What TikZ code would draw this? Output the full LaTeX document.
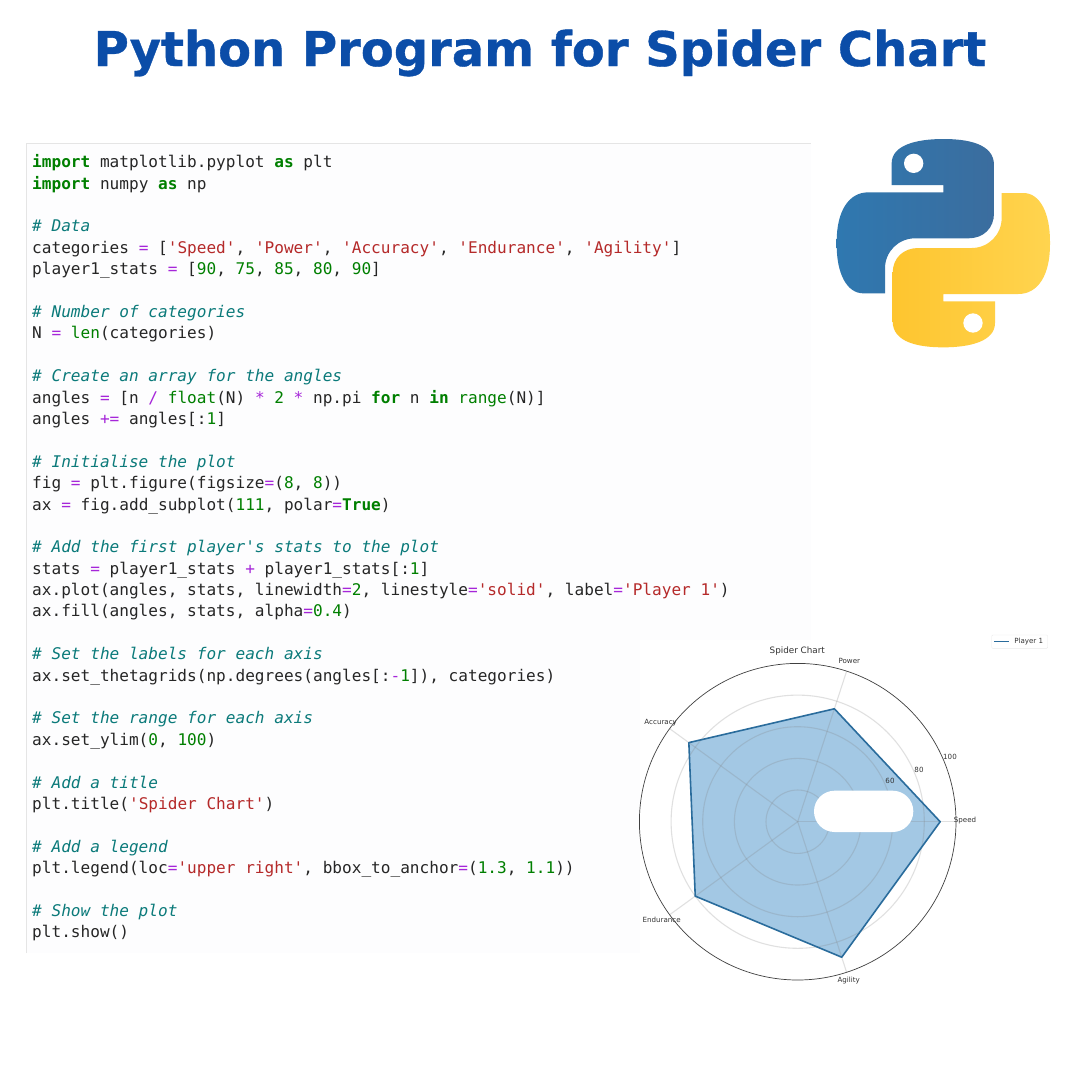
\documentclass[tikz,border=0pt]{standalone}
\usepackage{fontspec}
\usepackage{tikz}
\usetikzlibrary{calc}
\setmainfont{DejaVu Sans}
\newfontfamily\codefamily{DejaVu Sans Mono}
\newfontfamily\titlefamily[BoldFeatures={FakeBold=0.7}]{DejaVu Sans}
\definecolor{titleblue}{HTML}{0B4DA8}
\definecolor{kwgreen}{HTML}{007F00}
\definecolor{cmteal}{HTML}{0B7A7A}
\definecolor{strred}{HTML}{B52A2A}
\definecolor{oppurple}{HTML}{A626D9}
\definecolor{fillblue}{HTML}{A3C8E4}
\definecolor{lineblue}{HTML}{2A6C9C}
\definecolor{panelgrey}{HTML}{FDFDFE}
\definecolor{logoblueleft}{HTML}{2F78B0}
\definecolor{logoblueright}{HTML}{3B6D9E}
\definecolor{logoyellowleft}{HTML}{FFD44F}
\definecolor{logoyellowright}{HTML}{FEC52F}
\newcommand{\kw}[1]{\textcolor{kwgreen}{\bfseries #1}}
\newcommand{\bi}[1]{\textcolor{kwgreen}{#1}}
\newcommand{\cm}[1]{\textcolor{cmteal}{\itshape #1}}
\newcommand{\strlit}[1]{\textcolor{strred}{#1}}
\newcommand{\oper}[1]{\textcolor{oppurple}{#1}}

\begin{document}
\begin{tikzpicture} [
		x=1pt,y=-1pt,
		every node/.style={inner sep=0pt,text=black!80},
		ticklabel/.style={font=\fontsize{7.1}{8}\selectfont},
		codetext/.style={anchor=north west,align=left,text=black!85,font=\codefamily\fontsize{16.09}{21.39}\selectfont},
		gridline/.style={black!50,opacity=0.24,line width=1.1pt},
		snake/.style={insert path={(370,27) .. controls (440,27) and (522,40) .. (522,105) -- (522,250) .. controls (522,295) and (490,325) .. (445,325) -- (285,325) .. controls (235,325) and (195,365) .. (195,415) -- (195,490) -- (130,490) .. controls (80,490) and (50,430) .. (50,345) -- (50,335) .. controls (50,245) and (85,187) .. (145,187) -- (370,187) -- (370,165) -- (215,165) -- (215,100) .. controls (215,45) and (290,27) .. (370,27) -- cycle}},
	]
	\useasboundingbox (0,0) rectangle (1080,1080);
	\fill[white] (0,0) rectangle (1080,1080);

	\node[font=\titlefamily\bfseries\fontsize{48}{58}\selectfont,text=titleblue] (title) at (540,53) {Python Program for Spider Chart};

	% code panel
	\fill[panelgrey] (26,143) rectangle (811,953);
	\draw[black!10] (26,953) -- (26,143) -- (811,143);
	\fill[white] (640,640) rectangle (815,960);

	\node[codetext] (code) at (32,154.5) {%
		\kw{import} matplotlib.pyplot \kw{as} plt\\
		\kw{import} numpy \kw{as} np\\
		\mbox{}\\
		\cm{\# Data}\\
		categories \oper{=} [\strlit{'Speed'}, \strlit{'Power'}, \strlit{'Accuracy'}, \strlit{'Endurance'}, \strlit{'Agility'}]\\
		player1\_stats \oper{=} [\bi{90}, \bi{75}, \bi{85}, \bi{80}, \bi{90}]\\
		\mbox{}\\
		\cm{\# Number of categories}\\
		N \oper{=} \bi{len}(categories)\\
		\mbox{}\\
		\cm{\# Create an array for the angles}\\
		angles \oper{=} [n \oper{/} \bi{float}(N) \oper{*} \bi{2} \oper{*} np.pi \kw{for} n \kw{in} \bi{range}(N)]\\
		angles \oper{+=} angles[:\bi{1}]\\
		\mbox{}\\
		\cm{\# Initialise the plot}\\
		fig \oper{=} plt.figure(figsize\oper{=}(\bi{8}, \bi{8}))\\
		ax \oper{=} fig.add\_subplot(\bi{111}, polar\oper{=}\kw{True})\\
		\mbox{}\\
		\cm{\# Add the first player's stats to the plot}\\
		stats \oper{=} player1\_stats \oper{+} player1\_stats[:\bi{1}]\\
		ax.plot(angles, stats, linewidth\oper{=}\bi{2}, linestyle\oper{=}\strlit{'solid'}, label\oper{=}\strlit{'Player 1'})\\
		ax.fill(angles, stats, alpha\oper{=}\bi{0.4})\\
		\mbox{}\\
		\cm{\# Set the labels for each axis}\\
		ax.set\_thetagrids(np.degrees(angles[:\oper{-}\bi{1}]), categories)\\
		\mbox{}\\
		\cm{\# Set the range for each axis}\\
		ax.set\_ylim(\bi{0}, \bi{100})\\
		\mbox{}\\
		\cm{\# Add a title}\\
		plt.title(\strlit{'Spider Chart'})\\
		\mbox{}\\
		\cm{\# Add a legend}\\
		plt.legend(loc\oper{=}\strlit{'upper right'}, bbox\_to\_anchor\oper{=}(\bi{1.3}, \bi{1.1}))\\
		\mbox{}\\
		\cm{\# Show the plot}\\
		plt.show()};

	% python logo
	\begin{scope}[shift={(820,130)},scale=1/3]
		\shade[snake,left color=logoblueleft,right color=logoblueright];
		\fill[white] (281,100) circle (29);
		\begin{scope}[rotate around={180:(370,339.5)}]
			\shade[snake,left color=logoyellowright,right color=logoyellowleft];
			\fill[white] (281,100) circle (29);
		\end{scope}
	\end{scope}

	% spider chart
	\coordinate (centre) at (797.7,821.7);
	\foreach \ang/\val/\nm in {0/90/speed,72/75/power,144/85/accuracy,216/80/endurance,288/90/agility}
		\coordinate (\nm) at ($(centre)+(\ang:1.583pt*\val)$);
	\fill[fillblue] (speed) -- (power) -- (accuracy) -- (endurance) -- (agility) -- cycle;
	\foreach \rr in {31.7,63.3,95,126.6}
		\draw[gridline] (centre) circle [radius=\rr pt];
	\foreach \ang in {0,72,...,288}
		\draw[gridline] (centre) -- ($(centre)+(\ang:158.3pt)$);
	\draw[lineblue,line width=1.6pt,line join=round] (speed) -- (power) -- (accuracy) -- (endurance) -- (agility) -- cycle;
	\draw[black!75,line width=0.7pt] (centre) circle [radius=158.3pt];

	\fill[white,rounded corners=20.6pt] (814,790.7) rectangle (913.3,832);

	\node[ticklabel] (tick60) at (890,781) {60};
	\node[ticklabel] (tick80) at (919,769.7) {80};
	\node[ticklabel] (tick100) at (950,757) {100};
	\node[ticklabel] (labspeed) at (965,821) {Speed};
	\node[ticklabel] (labpower) at (849.3,661) {Power};
	\node[ticklabel] (labaccuracy) at (660.7,722.3) {Accuracy};
	\node[ticklabel] (labendurance) at (661.7,920) {Endurance};
	\node[ticklabel] (labagility) at (848.7,981) {Agility};
	\node[font=\fontsize{8.8}{10}\selectfont] (charttitle) at (797.3,650.7) {Spider Chart};

	% legend
	\draw[black!8,rounded corners=1pt] (991.7,635) rectangle (1047.7,648.3);
	\coordinate (legstart) at (994,641.5);
	\coordinate (legend) at (1009,641.5);
	\draw[lineblue,line width=1.2pt] (legstart) -- (legend);
	\node[ticklabel] (legtext) at (1028.7,641.7) {Player 1};
\end{tikzpicture}
\end{document}
